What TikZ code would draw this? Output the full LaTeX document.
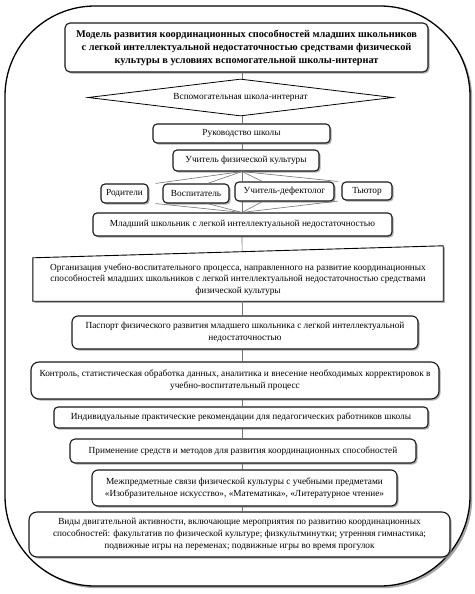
\documentclass[tikz,border=0pt]{standalone}
\usepackage{fontspec}
\setmainfont{Liberation Serif}
\usetikzlibrary{shapes.geometric,shadows,calc,backgrounds}
\tikzset{
  shad/.style={drop shadow={shadow xshift=1.6pt,shadow yshift=-1.6pt,fill=black!45,opacity=.7}},
  txt/.style={font=\fontsize{9.3}{11.8}\selectfont},
  box/.style={draw=black!90,line width=1.1pt,rounded corners=4pt,fill=white,shad,
    align=center,inner sep=1pt,txt},
  conn/.style={draw=black!55,line width=0.6pt},
}
\begin{document}
\begin{tikzpicture}[x=1pt,y=-1pt]
\useasboundingbox (0,0) rectangle (474,594);
% outer frame
\begin{pgfonlayer}{background}
\draw[line width=1.3pt,rounded corners=90pt,fill=white,
  drop shadow={shadow xshift=2.2pt,shadow yshift=-2.2pt,fill=black!50,opacity=.7}]
  (5,6) rectangle (470,586);
\end{pgfonlayer}
\coordinate (sp) at (242,0);

\node[box,minimum width=363,minimum height=49,rounded corners=5pt,
  font=\fontsize{10.3}{13}\selectfont\bfseries] (title) at (246.5,47.5)
  {Модель развития координационных способностей младших школьников\\
   с легкой интеллектуальной недостаточностью средствами физической\\
   культуры в условиях вспомогательной школы-интернат};

\node[diamond,aspect=8,draw=black,line width=0.8pt,fill=white,inner sep=0pt,
  minimum width=305,minimum height=37,txt] (dia) at (240.5,97.5)
  {Вспомогательная школа-интернат};

\node[box,minimum width=177,minimum height=19] (ruk) at (241.5,133.5) {Руководство школы};
\node[box,minimum width=146,minimum height=21] (ufk) at (246,160.5) {Учитель физической культуры};

\node[box,minimum width=47,minimum height=19] (rod) at (124.5,193.5) {Родители};
\node[box,minimum width=66,minimum height=19] (vos) at (196,193.5) {Воспитатель};
\node[box,minimum width=99,minimum height=19] (ud) at (284.5,191.5) {Учитель-дефектолог};
\node[box,minimum width=50,minimum height=18] (tyu) at (367,191) {Тьютор};

\node[box,minimum width=299,minimum height=23] (mlad) at (242.5,224.5)
  {Младший школьник с легкой интеллектуальной недостаточностью};

\node[align=center,inner sep=0pt,minimum width=410,minimum height=43,txt] (org) at (238,279.5)
  {Организация учебно-воспитательного процесса, направленного на развитие координационных\\
   способностей младших школьников с легкой интеллектуальной недостаточностью средствами\\
   физической культуры};
\begin{pgfonlayer}{background}
\draw[line width=0.9pt,fill=white,shad] (org.south west) -- (org.north west)
  -- ($(org.north east)+(0,-12)$) -- (org.south east) -- cycle;
\end{pgfonlayer}
\coordinate (orgtop) at ($(org.north west)!0.51!(org.north east)+(0,-6.1)$);

\node[box,minimum width=346,minimum height=33,rounded corners=6pt] (pasp) at (245,332.5)
  {Паспорт физического развития младшего школьника с легкой интеллектуальной\\
   недостаточностью};
\node[box,minimum width=408,minimum height=37,rounded corners=8pt] (kon) at (235,380.5)
  {Контроль, статистическая обработка данных, аналитика и внесение необходимых корректировок в\\
   учебно-воспитательный процесс};
\node[box,minimum width=374,minimum height=21] (ind) at (241,417.5)
  {Индивидуальные практические рекомендации для педагогических работников школы};
\node[box,minimum width=346,minimum height=24,rounded corners=5pt] (prim) at (243,451)
  {Применение средств и методов для развития координационных способностей};
\node[box,minimum width=305,minimum height=36,rounded corners=6pt] (mezh) at (244.5,488)
  {Межпредметные связи физической культуры с учебными предметами\\
   «Изобразительное искусство», «Математика», «Литературное чтение»};
\node[box,minimum width=421,minimum height=45,rounded corners=8pt] (vidy) at (239.5,534.5)
  {Виды двигательной активности, включающие мероприятия по развитию координационных\\
   способностей: факультатив по физической культуре; физкультминутки; утренняя гимнастика;\\
   подвижные игры на переменах; подвижные игры во время прогулок};

% spine connectors
\draw[conn] (title.south -| sp) -- (dia.north -| sp);
\draw[conn] (dia.south -| sp) -- (ruk.north -| sp);
\draw[conn] (ruk.south -| sp) -- (ufk.north -| sp);
\draw[conn] (mlad.south -| sp) -- (orgtop);
\draw[conn] (org.south -| sp) -- (pasp.north -| sp);
\draw[conn] (pasp.south -| sp) -- (kon.north -| sp);
\draw[conn] (kon.south -| sp) -- (ind.north -| sp);
\draw[conn] (ind.south -| sp) -- (prim.north -| sp);
\draw[conn] (prim.south -| sp) -- (mezh.north -| sp);
\draw[conn] (mezh.south -| sp) -- (vidy.north -| sp);

% fan out
\coordinate (fo) at (ufk.south -| sp);
\coordinate (fi) at (mlad.north -| sp);
\draw[conn] (fo) -- ($(rod.north east)!0.5!(vos.north west)$);
\draw[conn] (fo) -- ($(vos.north west)!0.67!(vos.north east)$);
\draw[conn] (fo) -- (ud.north -| sp);
\draw[conn] (fo) -- ($(ud.north west)!0.28!(ud.north east)$);
\draw[conn] (fo) -- ($(ud.north east)!0.5!(tyu.north west)$);
\draw[conn] (fi) -- ($(rod.south east)!0.5!(vos.south west)$);
\draw[conn] (fi) -- ($(vos.south west)!0.67!(vos.south east)$);
\draw[conn] (fi) -- (ud.south -| sp);
\draw[conn] (fi) -- ($(ud.south west)!0.28!(ud.south east)$);
\draw[conn] (fi) -- ($(ud.south east)!0.5!(tyu.south west)$);
\end{tikzpicture}
\end{document}
